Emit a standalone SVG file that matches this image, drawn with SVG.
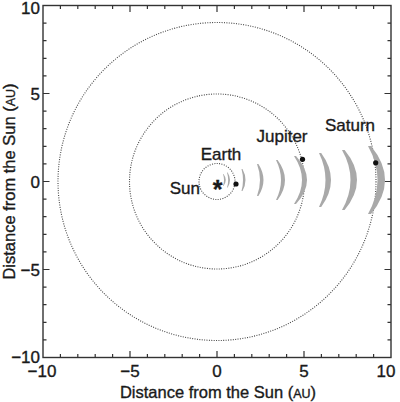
<svg xmlns="http://www.w3.org/2000/svg" width="400" height="402" viewBox="0 0 400 402">
<style>
text{font-family:"Liberation Sans",Arial,sans-serif;fill:#1a1a1a;stroke:#1a1a1a;stroke-width:0.35}
.tl{font-size:17px}
.lab{font-size:17px}
.ax{font-size:16.5px}
.orbit{fill:none;stroke:#444;stroke-width:1.1;stroke-dasharray:1 1.4}
.wave{fill:#a9a9a9}
.planet{fill:#111}
.frame{fill:none;stroke:#333;stroke-width:1.4}
.tick{fill:none;stroke:#333;stroke-width:1.2}
</style>
<g id="axes">
<rect class="frame" x="43" y="5.5" width="348" height="352"/>
<path class="tick" d="M60.4 357.5v-3.5M77.8 357.5v-3.5M95.2 357.5v-3.5M112.6 357.5v-3.5M147.4 357.5v-3.5M164.8 357.5v-3.5M182.2 357.5v-3.5M199.6 357.5v-3.5M234.4 357.5v-3.5M251.8 357.5v-3.5M269.2 357.5v-3.5M286.6 357.5v-3.5M321.4 357.5v-3.5M338.8 357.5v-3.5M356.2 357.5v-3.5M373.6 357.5v-3.5M130 357.5v-6.5M217 357.5v-6.5M304 357.5v-6.5
M60.4 5.5v3.5M77.8 5.5v3.5M95.2 5.5v3.5M112.6 5.5v3.5M147.4 5.5v3.5M164.8 5.5v3.5M182.2 5.5v3.5M199.6 5.5v3.5M234.4 5.5v3.5M251.8 5.5v3.5M269.2 5.5v3.5M286.6 5.5v3.5M321.4 5.5v3.5M338.8 5.5v3.5M356.2 5.5v3.5M373.6 5.5v3.5M130 5.5v6.5M217 5.5v6.5M304 5.5v6.5
M43 23.1h3.5M43 40.7h3.5M43 58.3h3.5M43 75.9h3.5M43 111.1h3.5M43 128.7h3.5M43 146.3h3.5M43 163.9h3.5M43 199.1h3.5M43 216.7h3.5M43 234.3h3.5M43 251.9h3.5M43 287.1h3.5M43 304.7h3.5M43 322.3h3.5M43 339.9h3.5M43 93.5h6.5M43 181.5h6.5M43 269.5h6.5
M391 23.1h-3.5M391 40.7h-3.5M391 58.3h-3.5M391 75.9h-3.5M391 111.1h-3.5M391 128.7h-3.5M391 146.3h-3.5M391 163.9h-3.5M391 199.1h-3.5M391 216.7h-3.5M391 234.3h-3.5M391 251.9h-3.5M391 287.1h-3.5M391 304.7h-3.5M391 322.3h-3.5M391 339.9h-3.5M391 93.5h-6.5M391 181.5h-6.5M391 269.5h-6.5"/>
<g class="tl" text-anchor="end">
<text x="40" y="13.5">10</text>
<text x="40" y="100">5</text>
<text x="40" y="188">0</text>
<text x="40" y="276">−5</text>
<text x="40" y="362.5">−10</text>
</g>
<g class="tl" text-anchor="middle">
<text x="42" y="377">−10</text>
<text x="130" y="377">−5</text>
<text x="217" y="377">0</text>
<text x="304" y="377">5</text>
<text x="386" y="377">10</text>
</g>
<text class="ax" x="218" y="398" text-anchor="middle">Distance from the Sun (<tspan font-size="12.5">AU</tspan>)</text>
<text class="ax" transform="translate(15 181.5) rotate(-90)" text-anchor="middle">Distance from the Sun (<tspan font-size="12.5">AU</tspan>)</text>
</g>
<g id="orbits">
<circle class="orbit" cx="217" cy="181.5" r="18"/>
<circle class="orbit" cx="217" cy="181.5" r="87.5"/>
<circle class="orbit" cx="217" cy="181.5" r="159"/>
</g>
<g id="waves">
<path class="wave" d="M223.5 174Q228 180 223.5 186L223 186Q225 180 223 174Z"/>
<path class="wave" d="M227.7 172.5Q232.3 180 227.7 187.5L227 187.5Q229.4 180 227 172.5Z"/>
<path class="wave" d="M242.5 169Q248.5 180 242.5 191L241.5 191Q244.5 180 241.5 169Z"/>
<path class="wave" d="M258.4 164Q268.6 180 258.4 196L257 196Q263 180 257 164Z"/>
<path class="wave" d="M277.6 160Q292.4 180 277.6 200L276 200Q286 180 276 160Z"/>
<path class="wave" d="M296 156Q318 180 296 204L294 204Q310 180 294 156Z"/>
<path class="wave" d="M321.2 153Q340.8 180 321.2 207L319 207Q332 180 319 153Z"/>
<path class="wave" d="M344.6 150Q369.4 180 344.6 210L342 210Q359 180 342 150Z"/>
<path class="wave" d="M371 146Q399 180 371 214L368 214Q387 180 368 146Z"/>
</g>
<g id="sun">
<text x="217.5" y="198" font-size="25" font-weight="bold" text-anchor="middle">*</text>
<text class="lab" x="200" y="194" text-anchor="end">Sun</text>
</g>
<g id="earth">
<circle class="planet" cx="236" cy="184" r="2.6"/>
<text class="lab" x="221" y="160" text-anchor="middle">Earth</text>
</g>
<g id="jupiter">
<circle class="planet" cx="302.5" cy="159.3" r="2.6"/>
<text class="lab" x="282" y="142" text-anchor="middle">Jupiter</text>
</g>
<g id="saturn">
<circle class="planet" cx="375.7" cy="162.8" r="2.6"/>
<text class="lab" x="350" y="131" text-anchor="middle">Saturn</text>
</g>
</svg>
